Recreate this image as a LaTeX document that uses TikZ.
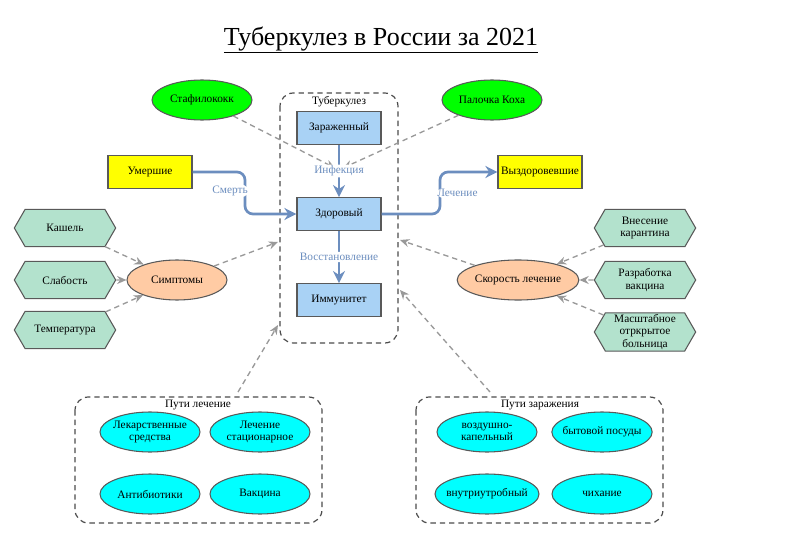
\documentclass[tikz,border=0pt]{standalone}
\usepackage{fontspec}
\setmainfont{Liberation Serif}
\usetikzlibrary{shapes.geometric,shapes.symbols,arrows.meta}
\definecolor{lblue}{HTML}{A9D2F5}
\definecolor{sblue}{HTML}{6C8EBF}
\definecolor{hexg}{HTML}{B3E2CD}
\definecolor{peach}{HTML}{FFCBA4}
\definecolor{aqua}{HTML}{00FFFF}
\definecolor{lime}{HTML}{00FF00}
\definecolor{yel}{HTML}{FFFF00}
\begin{document}
\begin{tikzpicture}[x=0.75pt,y=-0.75pt,font=\fontsize{8.5}{9.5}\selectfont,
 box/.style={draw=black!65,line width=0.9pt,fill=#1,minimum width=63pt,minimum height=24.5pt,inner sep=1pt},
 ell/.style={ellipse,draw=black!65,line width=0.8pt,fill=#1,minimum width=75pt,minimum height=30pt,inner sep=0pt,align=center},
 cel/.style={ellipse,draw=black!65,line width=0.8pt,fill=aqua,minimum width=75pt,minimum height=30pt,inner sep=-3pt,align=center},
 hex/.style={signal,signal to=east and west,signal pointer angle=120,draw=black!65,line width=0.8pt,fill=hexg,minimum width=76pt,minimum height=28pt,inner sep=1pt,align=center},
 grp/.style={draw=black!70,dashed,line width=0.9pt,rounded corners=10pt,dash pattern=on 4pt off 3pt},
 dar/.style={draw=black!40,dashed,line width=1pt,dash pattern=on 4pt off 3pt,-{Stealth[length=7pt,width=6pt]}},
 bar/.style={draw=sblue,line width=2pt,rounded corners=6pt,-{Stealth[length=9pt,width=9pt]}},
 lab/.style={text=sblue,fill=white,inner sep=1pt}]
\useasboundingbox (0,0) rectangle (800,535);
\node[font=\fontsize{19.5}{22}\selectfont] (title) at (381,40) {\underline{Туберкулез в России за 2021}};
\draw[grp] (280,93) rectangle (398,343);
\node (tb) at (339,102) {Туберкулез};
\draw[grp] (75,397) rectangle (322,523);
\node (pl) at (198,405) {Пути лечение};
\draw[grp] (416,397) rectangle (663,523);
\node (pz) at (540,405) {Пути заражения};
\node[box=lblue] (zar) at (339,128) {Зараженный};
\node[box=lblue] (zd) at (339,214) {Здоровый};
\node[box=lblue] (im) at (339,300) {Иммунитет};
\node[box=yel] (um) at (150,172) {Умершие};
\node[box=yel] (vy) at (540,172) {Выздоровевшие};
\node[ell=lime] (st) at (202,100) {Стафилококк};
\node[ell=lime] (pk) at (492,100) {Палочка Коха};
\draw[dar] (st) -- (335,168);
\draw[dar] (pk) -- (343,168);
\draw[bar] (zar) -- node[lab]{Инфекция} (zd);
\draw[bar] (zd) -- node[lab]{Восстановление} (im);
\draw[bar] (um.east) -- (245,172) -- node[lab,pos=0.45,left=-4pt]{Смерть} (245,214) -- (zd.west);
\draw[bar] (zd.east) -- (440,214) -- node[lab,pos=0.5,right=-4pt]{Лечение} (440,172) -- (vy.west);
\node[hex] (ka) at (65,228) {Кашель};
\node[hex] (sl) at (65,280) {Слабость};
\node[hex] (te) at (65,330) {Температура};
\node[ell=peach] (sim) at (177,280) {Симптомы};
\draw[dar] (ka) -- (sim);
\draw[dar] (sl) -- (sim);
\draw[dar] (te) -- (sim);
\coordinate (c1) at (278,242);
\draw[dar] (sim) -- (c1);
\node[hex] (vk) at (645,228) {Внесение\\карантина};
\node[hex] (rv) at (645,280) {Разработка\\вакцина};
\node[hex] (mb) at (645,332) {Масштабное\\отркрытое\\больница};
\node[ell=peach] (sk) at (518,280) {Скорость лечение};
\draw[dar] (vk) -- (sk);
\draw[dar] (rv) -- (sk);
\draw[dar] (mb) -- (sk);
\coordinate (c2) at (400,240);
\draw[dar] (sk) -- (c2);
\node[cel] (e1) at (150,432) {Лекарственные\\средства};
\node[cel] (e2) at (260,432) {Лечение\\стационарное};
\node[cel] (e3) at (150,494) {Антибиотики};
\node[cel] (e4) at (260,494) {Вакцина};
\node[cel] (f1) at (487,432) {воздушно-\\капельный};
\node[cel] (f2) at (602,432) {бытовой посуды};
\node[cel] (f3) at (487,494) {внутриутробный};
\node[cel] (f4) at (602,494) {чихание};
\coordinate (a1) at (238,392);
\coordinate (a2) at (278,325);
\coordinate (b1) at (490,392);
\coordinate (b2) at (400,290);
\draw[dar] (a1) -- (a2);
\draw[dar] (b1) -- (b2);
\end{tikzpicture}
\end{document}
